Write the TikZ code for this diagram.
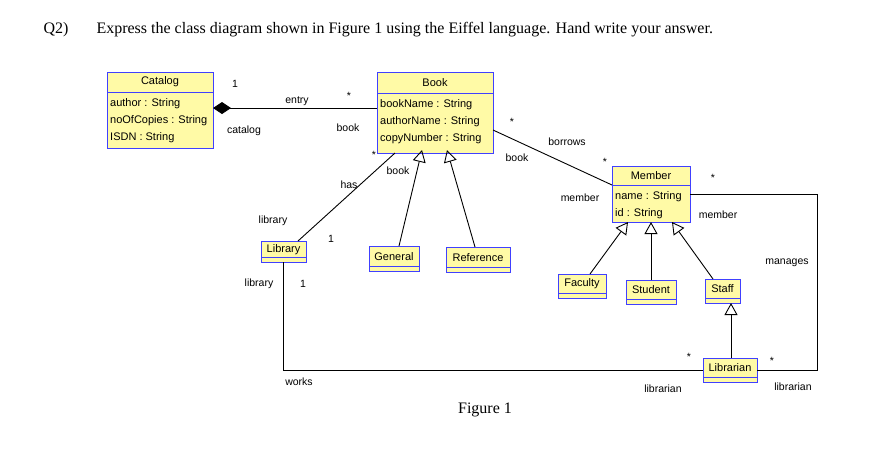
\documentclass[tikz,border=0pt]{standalone}
\usepackage{fontspec}
\setmainfont{Liberation Serif}
\newfontfamily\uml{Liberation Sans}
\usetikzlibrary{arrows.meta}
\begin{document}
\begin{tikzpicture}[x=1pt,y=-1pt,
  box/.style={draw=blue!75,fill=yellow!35,line width=1pt},
  sep/.style={draw=blue!75,line width=1pt},
  txt/.style={font=\uml\fontsize{11}{17}\selectfont,inner sep=0pt},
  lbl/.style={font=\uml\fontsize{10.5}{12}\selectfont,inner sep=0pt},
  assoc/.style={line width=0.9pt},
  gen/.style={line width=0.9pt,-{Triangle[open,length=12pt,width=13pt]}}]
\useasboundingbox (0,0) rectangle (886,459);
\node[anchor=west,font=\fontsize{16}{18}\selectfont] (q) at (40,30) {Q2)};
\node[anchor=west,font=\fontsize{16}{18}\selectfont] (task) at (93,30) {Express the class diagram shown in Figure 1 using the Eiffel language. Hand write your answer.};
\node[font=\fontsize{16}{18}\selectfont] (fig) at (485,410) {Figure 1};
% classes with attributes
\draw[box] (107,72) rectangle (213,148); \draw[sep] (107,92) -- (213,92);
\node[txt] (catalog) at (160,82) {Catalog};
\node[txt,anchor=west,align=left] (catattr) at (110,121) {author : String\\noOfCopies : String\\ISDN : String};
\draw[box] (377,72) rectangle (493,153); \draw[sep] (377,93) -- (493,93);
\node[txt] (book) at (435,83) {Book};
\node[txt,anchor=west,align=left] (bookattr) at (380,122) {bookName : String\\authorName : String\\copyNumber : String};
\draw[box] (612,166) rectangle (690,222); \draw[sep] (612,185) -- (690,185);
\node[txt] (member) at (651,176) {Member};
\node[txt,anchor=west,align=left] (memattr) at (615,205) {name : String\\id : String};
% small classes
\foreach \n/\t/\xa/\ya/\xb/\yb in {library/Library/261/241/306/262, general/General/369/246/419/271,
  reference/Reference/446/247/510/272, faculty/Faculty/558/274/606/298, student/Student/626/280/676/304,
  staff/Staff/705/279/740/303, librarian/Librarian/703/358/757/382}{
  \draw[box] (\xa,\ya) rectangle (\xb,\yb);
  \draw[sep] (\xa,\yb-5) -- (\xb,\yb-5);
  \node[txt] (\n) at ({(\xa+\xb)/2},{(\ya+\yb-4)/2}) {\t};
}
% associations
\draw[assoc,{Diamond[length=18pt,width=12pt]}-] (213,108) -- (377,108);
\draw[assoc] (493,130) -- (612,185);
\draw[assoc] (395,153) -- (298,241);
\draw[assoc] (283,262) -- (283,370) -- (703,370);
\draw[assoc] (690,194) -- (817,194) -- (817,370) -- (757,370);
% generalisations
\draw[gen] (399,246) -- (422,150);
\draw[gen] (475,247) -- (447,150);
\draw[gen] (590,274) -- (628,222);
\draw[gen] (651,280) -- (651,222);
\draw[gen] (713,279) -- (672,222);
\draw[gen] (731,358) -- (731,303);
% role labels
\foreach \x/\y/\t in {235/84/1, 297/101/entry, 349/96/*, 244/131/catalog, 348/128/book,
  512/122/*, 567/142/borrows, 517/158/book, 605/162/*, 580/198/member, 713/178/*, 718/215/member,
  374/155/*, 398/171/book, 349/185/has, 273/221/library, 331/239/1, 259/284/library, 303/284/1,
  787/263/manages, 689/357/*, 772/361/*, 299/382/works, 663/389/librarian, 793/387/librarian}{
  \node[lbl] at (\x,\y) {\t};
}
\end{tikzpicture}
\end{document}
